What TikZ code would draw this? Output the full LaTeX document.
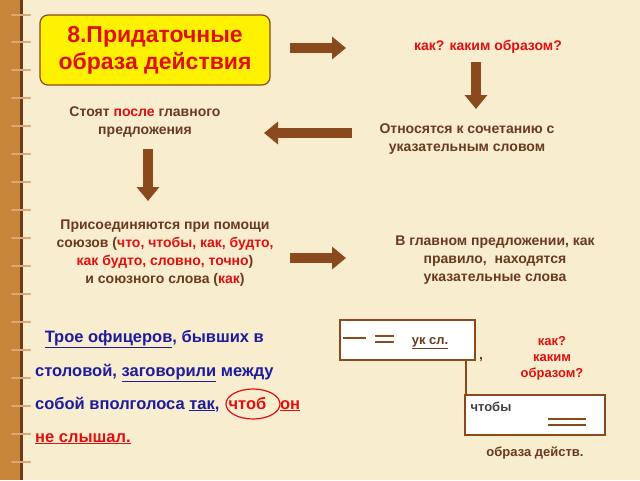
\documentclass[tikz,border=0pt]{standalone}
\usepackage{fontspec}
\setmainfont{Liberation Sans}
\usetikzlibrary{arrows.meta}
\definecolor{bg}{HTML}{F8EDCF}
\definecolor{brn}{HTML}{8A4A1E}
\definecolor{txt}{HTML}{6B3A1E}
\definecolor{dblue}{HTML}{1C1C9C}
\definecolor{rd}{HTML}{E01010}
\definecolor{strip}{HTML}{C8863A}
\begin{document}
\begin{tikzpicture}[x=1pt,y=-1pt,
  barr/.style={brn,line width=10pt,-{Triangle[width=22pt,length=14pt]}},
  lbl/.style={font=\bfseries\fontsize{14}{18}\selectfont,text=txt,align=center},
  sent/.style={font=\bfseries\fontsize{16.5}{18}\selectfont,text=dblue,anchor=base west,inner sep=0pt},
  ring/.style={line width=2.5pt,line cap=round,draw=strip!70!white}]
\useasboundingbox (0,0) rectangle (640,480);
\fill[bg] (0,0) rectangle (640,480);
\fill[strip] (0,0) rectangle (22,480);
\fill[brn!80!black] (20,0) rectangle (23,480);
\foreach \y in {15,42,70,98,126,154,182,210,238,266,294,322,350,378,406,434,462}
  \draw[ring] (12,\y) -- (30,\y);
\node[draw=brn,line width=1.2pt,fill=yellow,rounded corners=8pt,minimum width=230pt,minimum height=70pt,
  align=center,text=rd,font=\bfseries\fontsize{23}{27}\selectfont] (title) at (155,50) {8.Придаточные\\образа действия};
\node[lbl,text=rd] (q) at (488,47) {как? каким образом?};
\node[lbl] (rel) at (467,139) {Относятся к сочетанию с\\указательным словом};
\node[lbl] (pos) at (145,122) {Стоят {\color{rd}после} главного\\предложения};
\node[lbl] (join) at (165,253) {Присоединяются при помощи\\союзов ({\color{rd}что, чтобы, как, будто,}\\{\color{rd}как будто, словно, точно})\\и союзного слова ({\color{rd}как})};
\node[lbl] (main) at (495,260) {В главном предложении, как\\правило,\ \ находятся\\указательные слова};
\draw[barr] (290,48) -- (346,48);
\draw[barr] (476,62) -- (476,109);
\draw[barr] (352,133) -- (264,133);
\draw[barr] (148,149) -- (148,201);
\draw[barr] (290,258) -- (346,258);
% sentence
\node[sent] (s1) at (40,342) {\ \underline{Трое офицеров}, бывших в};
\node[sent] (s2) at (35,376) {столовой, \underline{заговорили} между};
\node[sent] (s3) at (35,409) {собой вполголоса \underline{так},\ \ {\color{rd}чтоб\ \ \ \underline{он}}};
\node[sent,text=rd] (s4) at (35,442) {\underline{не слышал.}};
\draw[rd,line width=1.2pt] (253,404) ellipse (27 and 15);
% scheme
\node[draw=brn,line width=1.5pt,fill=white,minimum width=135pt,minimum height=40pt,inner sep=0pt] (b1) at (407.5,340) {};
\node[draw=brn,line width=1.5pt,fill=white,minimum width=140pt,minimum height=40pt,inner sep=0pt] (b2) at (535,415) {};
\draw[brn,line width=1.5pt] (b1.south east) ++(-10,0) coordinate (c1) -- (c1 |- b2.north);
\draw[brn,line width=2pt] (343,338) -- (366,338);
\draw[brn,line width=2pt] (375,336) -- (394,336) (375,342) -- (394,342);
\node[font=\bfseries\fontsize{13}{14}\selectfont,text=txt] (uk) at (430,343) {\underline{ук сл.}};
\node[font=\bfseries\fontsize{14}{14}\selectfont,text=txt] (cm) at (481,360) {,};
\node[anchor=west,font=\fontsize{13}{14}\selectfont\bfseries,text=black!75] (cht) at (467,407) {чтобы};
\draw[brn,line width=1.5pt] (548,419) -- (586,419) (548,425) -- (586,425);
\node[lbl,text=rd,font=\bfseries\fontsize{13}{16}\selectfont] (q2) at (552,358) {как?\\каким\\образом?};
\node[lbl,font=\bfseries\fontsize{13}{14}\selectfont] (od) at (535,453) {образа действ.};
\end{tikzpicture}
\end{document}
